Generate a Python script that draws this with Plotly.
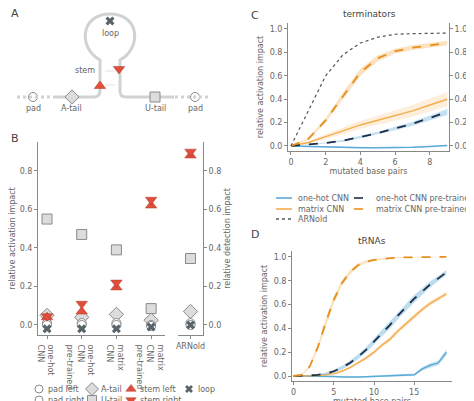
import plotly.graph_objects as go

# ---- panel B data (relative activation / detection impact) ----
models = ["one-hot<br>CNN", "one-hot<br>CNN<br>pre-trained", "matrix<br>CNN", "matrix<br>CNN<br>pre-trained"]
pad_left = [0.01, 0.01, 0.01, 0.0]
pad_right = [0.0, 0.0, 0.0, -0.005]
a_tail = [0.05, 0.04, 0.055, 0.025]
u_tail = [0.55, 0.47, 0.39, 0.085]
stem_left = [0.04, 0.07, 0.195, 0.62]
stem_right = [0.045, 0.11, 0.22, 0.65]
loop = [-0.02, -0.02, -0.02, -0.01]
arnold_b = {"pad left": 0.01, "pad right": 0.0, "A-tail": 0.07, "U-tail": 0.345,
            "stem left": 0.88, "stem right": 0.9, "loop": 0.0}

# ---- panel C: terminators ----
bp_c = list(range(10))
c_arnold = [0, 0.3, 0.6, 0.78, 0.88, 0.93, 0.955, 0.96, 0.965, 0.965]
c_mat_pre = [0, 0.06, 0.22, 0.43, 0.63, 0.75, 0.81, 0.84, 0.86, 0.88]
c_mat = [0, 0.03, 0.08, 0.13, 0.18, 0.22, 0.26, 0.30, 0.35, 0.40]
c_oh_pre = [0, 0.01, 0.025, 0.045, 0.075, 0.11, 0.15, 0.19, 0.24, 0.29]
c_oh = [0, -0.005, -0.01, -0.015, -0.015, -0.015, -0.015, -0.012, -0.005, 0.005]
c_mat_pre_sd = [0, 0.01, 0.02, 0.03, 0.03, 0.025, 0.02, 0.02, 0.02, 0.02]
c_mat_sd = [0, 0.01, 0.02, 0.03, 0.035, 0.04, 0.045, 0.05, 0.055, 0.06]
c_oh_pre_sd = [0, 0.003, 0.005, 0.008, 0.01, 0.012, 0.015, 0.018, 0.02, 0.025]
c_oh_sd = [0, 0.003, 0.004, 0.004, 0.004, 0.004, 0.004, 0.004, 0.004, 0.005]

# ---- panel D: tRNAs ----
bp_d = list(range(20))
d_mat_pre = [0, 0.01, 0.08, 0.24, 0.45, 0.64, 0.78, 0.87, 0.93, 0.96, 0.975, 0.985, 0.99, 0.995, 0.997, 0.998, 1, 1, 1, 1]
d_oh_pre = [0, 0, 0.005, 0.01, 0.02, 0.04, 0.07, 0.11, 0.16, 0.22, 0.29, 0.36, 0.43, 0.51, 0.58, 0.65, 0.71, 0.77, 0.82, 0.87]
d_mat = [0, 0, 0, 0.005, 0.01, 0.02, 0.04, 0.07, 0.11, 0.15, 0.2, 0.26, 0.31, 0.38, 0.44, 0.50, 0.56, 0.61, 0.65, 0.69]
d_oh = [0, 0, 0, -0.002, -0.003, -0.005, -0.008, -0.01, -0.008, -0.006, -0.004, 0, 0.005, 0.007, 0.008, 0.01, 0.06, 0.09, 0.11, 0.2]
d_mat_pre_sd = [0, 0.005, 0.015, 0.025, 0.03, 0.03, 0.025, 0.02, 0.015, 0.01, 0.008, 0.006, 0.005, 0.004, 0.003, 0.002, 0.002, 0.002, 0.002, 0.002]
d_oh_pre_sd = [0, 0.002, 0.004, 0.006, 0.01, 0.012, 0.015, 0.018, 0.02, 0.022, 0.025, 0.027, 0.03, 0.03, 0.03, 0.03, 0.028, 0.025, 0.022, 0.02]
d_mat_sd = [0, 0.001, 0.002, 0.003, 0.005, 0.007, 0.008, 0.01, 0.012, 0.014, 0.016, 0.018, 0.02, 0.02, 0.02, 0.02, 0.02, 0.02, 0.02, 0.02]
d_oh_sd = [0, 0.002, 0.003, 0.004, 0.005, 0.005, 0.005, 0.005, 0.005, 0.005, 0.005, 0.006, 0.007, 0.008, 0.009, 0.01, 0.015, 0.02, 0.02, 0.025]

W, H = 474, 401
BLUE = "#5aaad8"
ORANGE = "#f4ad4f"
DORANGE = "#e5901c"
NAVY = "#1c2d48"
GREY = "#555"
RED = "#e04f3c"
FILLG = "#dcdcdc"
EDGEG = "#8a8a8a"
TXT = "#666"
FONT = "DejaVu Sans"

def px(x0, x1):
    return [x0 / W, x1 / W]

def py(top, bottom):
    return [1 - bottom / H, 1 - top / H]

def pt(x, y):
    # pixel position -> paper coords
    return x / W, 1 - y / H

fig = go.Figure()

# marker styles for panel B
styles = {
    "pad left": dict(symbol="circle", size=9, color="white", line=dict(color=EDGEG, width=1)),
    "pad right": dict(symbol="circle", size=9, color="white", line=dict(color=EDGEG, width=1)),
    "A-tail": dict(symbol="diamond", size=11, color=FILLG, line=dict(color=EDGEG, width=1)),
    "U-tail": dict(symbol="square", size=10, color=FILLG, line=dict(color=EDGEG, width=1)),
    "stem left": dict(symbol="triangle-up", size=10, color=RED, line=dict(color="#b03828", width=0.5)),
    "stem right": dict(symbol="triangle-down", size=10, color=RED, line=dict(color="#b03828", width=0.5)),
    "loop": dict(symbol="x", size=8, color="#59646a", line=dict(width=0)),
}
series_b = {"pad left": pad_left, "pad right": pad_right, "A-tail": a_tail, "U-tail": u_tail,
            "stem left": stem_left, "stem right": stem_right, "loop": loop}
draw_order = ["U-tail", "A-tail", "pad left", "pad right", "loop", "stem left", "stem right"]
for name in draw_order:
    fig.add_trace(go.Scatter(x=list(range(4)), y=series_b[name], mode="markers",
                             marker=styles[name], showlegend=False, xaxis="x", yaxis="y"))
    fig.add_trace(go.Scatter(x=[0], y=[arnold_b[name]], mode="markers",
                             marker=styles[name], showlegend=False, xaxis="x2", yaxis="y2"))

# bands + lines for C and D
def band_line(xs, ys, sd, color, dash, width, xa, ya, fillcol):
    if sd is not None:
        up = [a + b for a, b in zip(ys, sd)]
        lo = [a - b for a, b in zip(ys, sd)]
        fig.add_trace(go.Scatter(x=xs + xs[::-1], y=up + lo[::-1], fill="toself", fillcolor=fillcol,
                                 line=dict(width=0), mode="lines", showlegend=False,
                                 hoverinfo="skip", xaxis=xa, yaxis=ya))
    fig.add_trace(go.Scatter(x=xs, y=ys, mode="lines", line=dict(color=color, dash=dash, width=width),
                             showlegend=False, xaxis=xa, yaxis=ya))

band_line(bp_c, c_oh, c_oh_sd, BLUE, "solid", 1.5, "x3", "y3", "rgba(90,170,216,0.3)")
band_line(bp_c, c_mat, c_mat_sd, ORANGE, "solid", 1.5, "x3", "y3", "rgba(244,173,79,0.2)")
band_line(bp_c, c_oh_pre, c_oh_pre_sd, NAVY, "dash", 1.8, "x3", "y3", "rgba(90,170,216,0.35)")
band_line(bp_c, c_mat_pre, c_mat_pre_sd, DORANGE, "dash", 1.8, "x3", "y3", "rgba(244,173,79,0.35)")
band_line(bp_c, c_arnold, None, GREY, "dot", 1.2, "x3", "y3", None)

band_line(bp_d, d_oh, d_oh_sd, BLUE, "solid", 1.5, "x4", "y4", "rgba(90,170,216,0.3)")
band_line(bp_d, d_mat, d_mat_sd, ORANGE, "solid", 1.5, "x4", "y4", "rgba(244,173,79,0.25)")
band_line(bp_d, d_oh_pre, d_oh_pre_sd, NAVY, "dash", 1.8, "x4", "y4", "rgba(90,170,216,0.4)")
band_line(bp_d, d_mat_pre, d_mat_pre_sd, DORANGE, "dash", 1.8, "x4", "y4", "rgba(244,173,79,0.35)")

# dummy trace so the right axis of C is drawn
fig.add_trace(go.Scatter(x=[0], y=[0], mode="markers", marker=dict(opacity=0), showlegend=False,
                         hoverinfo="skip", xaxis="x3", yaxis="y5"))

# ---- overlay axis in pixel units for schematic and legend keys ----
ov = dict(xaxis="x9", yaxis="y9", showlegend=False, hoverinfo="skip")
diag = [("pad left", 25, 89), ("A-tail", 64, 89), ("stem left", 92, 78), ("stem right", 111, 61),
        ("U-tail", 147, 89), ("pad right", 187, 89), ("loop", 102, 13)]
for name, x, y in diag:
    fig.add_trace(go.Scatter(x=[x], y=[y], mode="markers", marker=styles[name], **ov))

annots = []

def label(text, x, y, size=8, color=TXT, anchor="center"):
    ax, ay = pt(x, y)
    annots.append(dict(x=ax, y=ay, xref="paper", yref="paper", text=text, showarrow=False,
                       xanchor=anchor, yanchor="middle", font=dict(size=size, color=color)))

leg_b = [("pad left", 31, 381), ("pad right", 31, 392), ("A-tail", 84, 381), ("U-tail", 84, 392),
         ("stem left", 123, 381), ("stem right", 123, 392), ("loop", 181, 381)]
for name, x, y in leg_b:
    st = dict(styles[name])
    st["size"] = st["size"] - 1
    fig.add_trace(go.Scatter(x=[x], y=[y], mode="markers", marker=st, **ov))
    label(name, x + 7, y, anchor="left")

leg_c = [("one-hot CNN", BLUE, "solid", 268, 190), ("matrix CNN", ORANGE, "solid", 268, 201),
         ("ARNold", GREY, "dot", 268, 211), ("one-hot CNN pre-trained", NAVY, "dash", 346, 190),
         ("matrix CNN pre-trained", DORANGE, "dash", 346, 201)]
for name, col, dash, x, y in leg_c:
    fig.add_trace(go.Scatter(x=[x, x + 16], y=[y, y], mode="lines",
                             line=dict(color=col, dash=dash, width=1.6), **ov))
    label(name, x + 20, y, anchor="left")

for t, x, y in [("loop", 102, 25), ("stem", 77, 62), ("pad", 25, 100), ("A-tail", 64, 101),
                ("U-tail", 147, 101), ("pad", 187, 101)]:
    label(t, x, y)
for t, x, y in [("A", 1, 6), ("B", 1, 130), ("C", 241, 7), ("D", 241, 226)]:
    label(t, x, y, size=11, color="#444", anchor="left")
label("terminators", 361, 6, size=9, color="#444")
label("tRNAs", 364, 233, size=9, color="#444")

strand = dict(type="path", xref="x9", yref="y9", line=dict(color="#cfd3d4", width=3), layer="below")
shapes = [
    dict(strand, path="M 45 89 L 86 89 Q 92 89 92 82 L 92 52 C 70 40, 72 6, 102 6 "
                      "C 132 6, 134 40, 112 52 L 112 83 Q 112 89 118 89 L 166 89"),
    dict(type="line", xref="x9", yref="y9", x0=9, x1=44, y0=89, y1=89,
         line=dict(color="#cfd3d4", width=3, dash="dot")),
    dict(type="line", xref="x9", yref="y9", x0=167, x1=203, y0=89, y1=89,
         line=dict(color="#cfd3d4", width=3, dash="dot")),
    dict(type="line", xref="x9", yref="y9", x0=97, x1=107, y0=63, y1=63, line=dict(color="#e0e0e0", width=1)),
    dict(type="line", xref="x9", yref="y9", x0=97, x1=107, y0=77, y1=77, line=dict(color="#e0e0e0", width=1)),
]

axstyle = dict(showgrid=False, zeroline=False, showline=True, linecolor="#888", ticks="outside",
               ticklen=3, tickcolor="#888", tickfont=dict(size=8, color=TXT, family=FONT),
               automargin=False)
tfont = dict(size=8, color=TXT, family=FONT)
yticks = [0, 0.2, 0.4, 0.6, 0.8]
yticks1 = [0, 0.2, 0.4, 0.6, 0.8, 1.0]

fig.update_layout(
    width=W, height=H, margin=dict(l=0, r=0, t=0, b=0, autoexpand=False),
    plot_bgcolor="rgba(0,0,0,0)", paper_bgcolor="white", font=dict(family=FONT),
    annotations=annots, shapes=shapes,
    xaxis=dict(axstyle, domain=px(30, 157), range=[-0.26, 3.4], anchor="y",
               tickvals=list(range(4)), ticktext=models),
    yaxis=dict(axstyle, domain=py(134, 327), range=[-0.052, 0.95], anchor="x",
               tickvals=yticks, tickformat=".1f",
               title=dict(text="relative activation impact", font=tfont, standoff=4)),
    xaxis2=dict(axstyle, domain=px(170, 195), range=[-0.5, 0.5], anchor="y2",
                tickvals=[0], ticktext=["ARNold"]),
    yaxis2=dict(axstyle, domain=py(134, 327), range=[-0.052, 0.95], anchor="x2", side="right",
                tickvals=yticks, tickformat=".1f",
                title=dict(text="relative detection impact", font=tfont, standoff=4)),
    xaxis3=dict(axstyle, domain=px(280, 441), range=[-0.17, 9.1], anchor="y3",
                tickvals=[0, 2, 4, 6, 8],
                title=dict(text="mutated base pairs", font=tfont, standoff=2)),
    yaxis3=dict(axstyle, domain=py(15, 143), range=[-0.043, 1.051], anchor="x3",
                tickvals=yticks1, tickformat=".1f",
                title=dict(text="relative activation impact", font=tfont, standoff=4)),
    yaxis5=dict(axstyle, domain=py(15, 143), range=[-0.043, 1.051], anchor="x3", overlaying="y3",
                side="right", tickvals=yticks1, tickformat=".1f",
                title=dict(text="relative detection impact", font=tfont, standoff=4)),
    xaxis4=dict(axstyle, domain=px(284, 444), range=[-0.2, 19.7], anchor="y4",
                tickvals=[0, 5, 10, 15],
                title=dict(text="mutated base pairs", font=tfont, standoff=2)),
    yaxis4=dict(axstyle, domain=py(243, 373), range=[-0.042, 1.05], anchor="x4",
                tickvals=yticks1, tickformat=".1f",
                title=dict(text="relative activation impact", font=tfont, standoff=4)),
    xaxis9=dict(domain=[0, 1], range=[0, W], visible=False, fixedrange=True, anchor="y9"),
    yaxis9=dict(domain=[0, 1], range=[H, 0], visible=False, fixedrange=True, anchor="x9"),
)

fig.write_html("out.html")
